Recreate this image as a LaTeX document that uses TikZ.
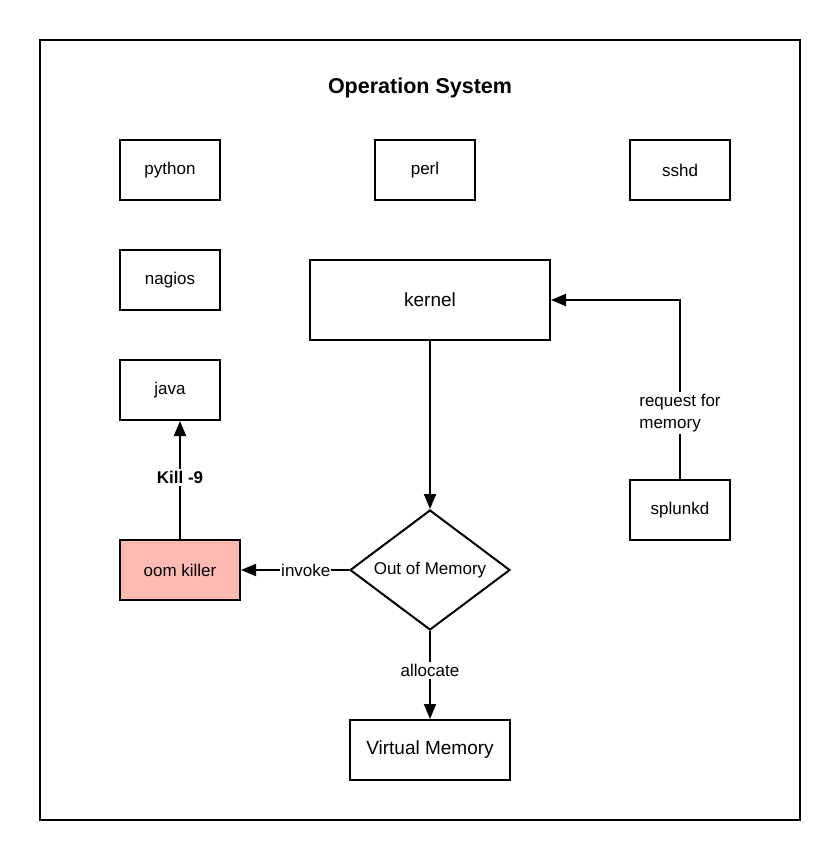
\documentclass[tikz,border=0pt]{standalone}
\usepackage{fontspec}
\setmainfont{Liberation Sans}
\usetikzlibrary{arrows.meta,shapes.geometric}
\definecolor{oomfill}{HTML}{FFBBB1}
\begin{document}
\begin{tikzpicture}[x=1pt,y=-1pt,
  box/.style={draw,line width=2pt,minimum width=100pt,minimum height=60pt,inner sep=0pt,font=\fontsize{17}{20}\selectfont},
  conn/.style={line width=2pt,-{Triangle[length=15pt,width=12pt]}},
  lbl/.style={fill=white,inner sep=2pt,font=\fontsize{17}{20}\selectfont}]
\useasboundingbox (0,0) rectangle (840,860);
\node[draw,line width=2pt,minimum width=760pt,minimum height=780pt,inner sep=0pt] (frame) at (420,430) {};
\node[font=\bfseries\fontsize{21.5}{24}\selectfont] (title) at (420,88) {Operation System};
\node[box] (python) at (170,170) {python};
\node[box] (perl) at (425,170) {perl};
\node[box] (sshd) at (680,170) {sshd};
\node[box] (nagios) at (170,280) {nagios};
\node[box] (java) at (170,390) {java};
\node[box,minimum width=240pt,minimum height=80pt,font=\fontsize{19}{22}\selectfont] (kernel) at (430,300) {kernel};
\node[box] (splunkd) at (680,510) {splunkd};
\node[box,fill=oomfill,minimum width=120pt] (oom) at (180,570) {oom killer};
\node[draw,line width=2pt,diamond,aspect=1.3333,minimum width=160pt,minimum height=120pt,inner sep=0pt,font=\fontsize{17}{20}\selectfont] (oomd) at (430,570) {Out of Memory};
\node[box,minimum width=160pt,font=\fontsize{19}{22}\selectfont] (vm) at (430,750) {Virtual Memory};
\draw[conn] (kernel.south) -- (oomd.north);
\draw[conn] (oomd.west) -- node[lbl,inner sep=1pt,pos=0.4] (invokel) {invoke} (oom.east);
\draw[conn] (oomd.south) -- node[lbl,pos=0.45] (allocl) {allocate} (vm.north);
\draw[conn] (oom.north) -- node[lbl,pos=0.52,font=\bfseries\fontsize{17}{20}\selectfont] (killl) {Kill -9} (oom.north |- java.south);
\coordinate (bend) at (680,300);
\draw[conn] (splunkd.north) -- node[lbl,align=left,pos=0.37,font=\fontsize{17}{22}\selectfont] (reql) {request for\\memory} (bend) -- (kernel.east);
\end{tikzpicture}
\end{document}
